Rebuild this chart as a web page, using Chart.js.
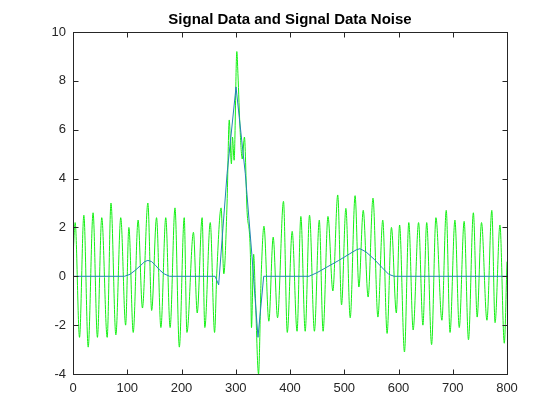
<!DOCTYPE html>
<html>
<head>
<meta charset="utf-8">
<script src="https://cdn.jsdelivr.net/npm/chart.js@4.4.0/dist/chart.umd.min.js"></script>
<style>
  html, body { margin: 0; padding: 0; background: #fff; }
  #chart { display: block; }
</style>
</head>
<body>
<canvas id="chart" width="560" height="420"></canvas>
<script>
// Signal vs noisy signal

const titleText = 'Signal Data and Signal Data Noise';

const xTicks = [0, 100, 200, 300, 400, 500, 600, 700, 800];
const yTicks = [-4, -2, 0, 2, 4, 6, 8, 10];

// clean signal (blue)
const signalX = [0, 95, 105, 115, 125, 132, 138, 145, 152, 160, 168, 178,
  262, 268.5, 284, 300.5, 317.6, 330, 341, 351.5,
  435, 450, 470, 490, 510, 522, 529, 540, 555, 570, 582, 592, 800];
const signalY = [0, 0, 0.08, 0.25, 0.45, 0.6, 0.65, 0.6, 0.45, 0.25, 0.1, 0,
  0, -0.35, 4.2, 7.75, 4.2, 0.8, -2.5, 0,
  0, 0.15, 0.4, 0.65, 0.92, 1.08, 1.13, 1.0, 0.7, 0.35, 0.08, 0, 0];

// noisy signal (green), peaks and troughs
const noiseX = [0, 4, 12, 20, 28, 37, 45, 53, 63, 70, 79, 88, 97,
  103, 111, 120, 128, 138, 145, 154, 162, 171, 179, 188, 196,
  205, 210, 222, 229, 238, 243, 253, 261, 265, 273, 278, 284,
  288, 292, 294, 297, 302, 304, 308, 312, 316, 321, 327, 329,
  333, 336, 342, 347, 352, 361, 369, 377, 388, 395, 404, 413,
  420, 428, 436, 445, 454, 461, 470, 479, 488, 495, 503, 511,
  520, 527, 535, 544, 553, 562, 571, 579, 587, 596, 602, 611,
  619, 627, 637, 645, 652, 661, 669, 680, 688, 695, 704, 712,
  721, 729, 738, 745, 753, 763, 772, 778, 787, 795, 800];
const noiseY = [0.8, 2.2, -2.5, 2.5, -2.9, 2.6, -2.5, 2.4, -2.5, 3.0, -2.4, 2.4, -2.0,
  2.0, -2.3, 2.3, -1.3, 3.0, -1.4, 2.4, -2.1, 2.4, -2.1, 2.8, -2.9,
  2.4, -2.3, 1.8, -1.5, 2.4, -2.1, 2.2, -2.3, 0.1, 2.8, 0.1, 3.0,
  6.4, 4.6, 5.7, 4.75, 9.2, 8.3, 6.0, 4.8, 5.7, 2.6, 0.9, -2.1,
  0.9, -0.7, -4.0, 0.1, 2.05, -1.84, 1.6, -1.7, 3.07, -2.3, 1.84, -2.25,
  2.45, -2.25, 2.5, -2.25, 2.3, -2.25, 2.45, -0.6, 3.33, -1.17, 2.78, -1.7,
  3.3, -0.44, 2.7, -0.85, 3.2, -1.67, 2.3, -2.34, 2.0, -1.5, 2.1, -3.1,
  2.2, -2.2, 2.2, -2.0, 2.2, -2.8, 2.4, -1.8, 2.7, -2.3, 2.3, -2.1,
  2.25, -2.6, 2.6, -1.67, 2.2, -1.8, 2.7, -1.9, 2.1, -2.74, 0.6];

const axisColor = '#262626';
const fontFamily = '"Liberation Sans", Arial, Helvetica, sans-serif';

const toPoints = (xs, ys) => xs.map((x, i) => ({ x: x, y: ys[i] }));

// box with inward ticks on all four sides, plus the title
const matlabBox = {
  id: 'matlabBox',
  afterDatasetsDraw(chart) {
    const { ctx, chartArea: a, scales: { x, y } } = chart;
    const L = Math.round(a.left) + 0.5, R = Math.round(a.right) + 0.5;
    const T = Math.round(a.top) + 0.5, B = Math.round(a.bottom) + 0.5;
    const len = 5;
    ctx.save();
    ctx.strokeStyle = axisColor;
    ctx.lineWidth = 1;
    ctx.beginPath();
    xTicks.forEach(v => {
      const px = Math.round(x.getPixelForValue(v)) + 0.5;
      ctx.moveTo(px, B); ctx.lineTo(px, B - len);
      ctx.moveTo(px, T); ctx.lineTo(px, T + len);
    });
    yTicks.forEach(v => {
      const py = Math.round(y.getPixelForValue(v)) + 0.5;
      ctx.moveTo(L, py); ctx.lineTo(L + len, py);
      ctx.moveTo(R, py); ctx.lineTo(R - len, py);
    });
    ctx.stroke();
    ctx.strokeRect(L, T, R - L, B - T);

    ctx.fillStyle = '#000';
    ctx.font = 'bold 15px ' + fontFamily;
    ctx.textAlign = 'center';
    ctx.textBaseline = 'alphabetic';
    ctx.fillText(titleText, (a.left + a.right) / 2, 24);
    ctx.restore();
  }
};

new Chart(document.getElementById('chart').getContext('2d'), {
  type: 'line',
  data: {
    datasets: [{
      label: 'Signal Data',
      data: toPoints(signalX, signalY),
      borderColor: '#2384B4',
      borderWidth: 1,
      pointRadius: 0,
      tension: 0,
      order: 0
    }, {
      label: 'Signal Data Noise',
      data: toPoints(noiseX, noiseY),
      borderColor: '#14F014',
      borderWidth: 1,
      pointRadius: 0,
      cubicInterpolationMode: 'monotone',
      order: 1
    }]
  },
  options: {
    responsive: false,
    animation: false,
    layout: { padding: { left: 0, right: 53, top: 32, bottom: 0 } },
    scales: {
      x: {
        type: 'linear',
        min: 0,
        max: 800,
        afterFit: s => { s.height = 46; },
        afterBuildTicks: s => { s.ticks = xTicks.map(v => ({ value: v })); },
        grid: { display: false, drawTicks: false },
        border: { display: false },
        ticks: {
          padding: 7,
          maxRotation: 0,
          autoSkip: false,
          color: axisColor,
          font: { family: fontFamily, size: 13 }
        }
      },
      y: {
        type: 'linear',
        min: -4,
        max: 10,
        afterFit: s => { s.width = 73; },
        afterBuildTicks: s => { s.ticks = yTicks.map(v => ({ value: v })); },
        grid: { display: false, drawTicks: false },
        border: { display: false },
        ticks: {
          padding: 7,
          color: axisColor,
          font: { family: fontFamily, size: 13 }
        }
      }
    },
    plugins: {
      legend: { display: false },
      tooltip: { enabled: false },
      title: { display: false }
    }
  },
  plugins: [matlabBox]
});
</script>
</body>
</html>
